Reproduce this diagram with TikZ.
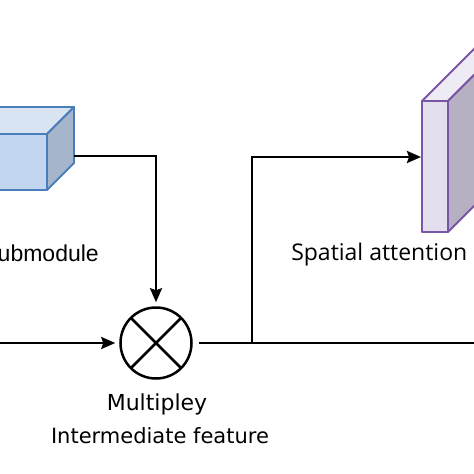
\documentclass[tikz,border=0pt]{standalone}
\usepackage{fontspec}
\setmainfont{DejaVu Sans}
\newfontfamily\arialfont{Liberation Sans}
\newfontfamily\segoefont{Open Sans}
\usetikzlibrary{arrows.meta}
\definecolor{cubeedge}{HTML}{4A7EBB}
\definecolor{cubefront}{HTML}{C2D6F0}
\definecolor{cubetop}{HTML}{D9E4F3}
\definecolor{cubeside}{HTML}{A5B5CC}
\definecolor{slabedge}{HTML}{7A56A6}
\definecolor{slabfront}{HTML}{E4DFEE}
\definecolor{slabtop}{HTML}{EEEBF4}
\definecolor{slabside}{HTML}{B6B0C2}
\begin{document}
\begin{tikzpicture}[x=1pt, y=-1pt, >={Stealth[length=14pt,width=12pt,inset=2pt]}, line width=2.5pt,
    mult/.style={circle, draw, line width=2.5pt, minimum size=71pt, inner sep=0pt,
        path picture={\draw[line width=2.5pt]([shift={(45:40pt)}]path picture bounding box.center)--([shift={(225:40pt)}]path picture bounding box.center);
            \draw[line width=2.5pt]([shift={(135:40pt)}]path picture bounding box.center)--([shift={(315:40pt)}]path picture bounding box.center);}},
    cube/.style={draw=cubeedge, line width=1.8pt, line join=round},
    slab/.style={draw=slabedge, line width=1.8pt, line join=round}]
\useasboundingbox (0,0) rectangle (474,474);
\clip (0,0) rectangle (474,474);
\fill[white] (0,0) rectangle (474,474);

% channel cube
\filldraw[cube, fill=cubefront] (-60,134) rectangle (47,190);
\filldraw[cube, fill=cubetop] (-60,134)--(47,134)--(74,107)--(-33,107)--cycle;
\filldraw[cube, fill=cubeside] (47,134)--(74,107)--(74,163)--(47,190)--cycle;
\node[font=\arialfont\fontsize{23}{27}\selectfont, anchor=base east, inner sep=0pt] (chlabel) at (100,261) {submodule};

% spatial slab
\filldraw[slab, fill=slabfront] (422,101) rectangle (448,232);
\filldraw[slab, fill=slabtop] (422,101)--(448,101)--(508,41)--(482,41)--cycle;
\filldraw[slab, fill=slabside] (448,101)--(508,41)--(508,172)--(448,232)--cycle;
\node[font=\segoefont\fontsize{23}{27}\selectfont, anchor=base west, inner sep=0pt] (splabel) at (290,260) {Spatial attention};

\node[mult] (mult) at (156,343) {};
\node[font=\fontsize{22}{26}\selectfont, anchor=base, inner sep=0pt] (multlabel) at (157,410) {Multipley};
\node[font=\fontsize{21}{25}\selectfont, anchor=base, inner sep=0pt] (featlabel) at (160,443) {Intermediate feature};

\coordinate (chan) at (74,156);
\coordinate (inl) at (-5,343);
\coordinate (outr) at (480,343);
\coordinate (branch) at (252,343);
\coordinate (spat) at (422,157);
\draw[->, shorten >=4pt](chan)-|(mult.north);
\draw[->, shorten >=4pt](inl)--(mult.west);
\draw[shorten <=6pt](mult.east)--(outr);
\draw[->, shorten >=1pt](branch)|-(spat);

\end{tikzpicture}
\end{document}
